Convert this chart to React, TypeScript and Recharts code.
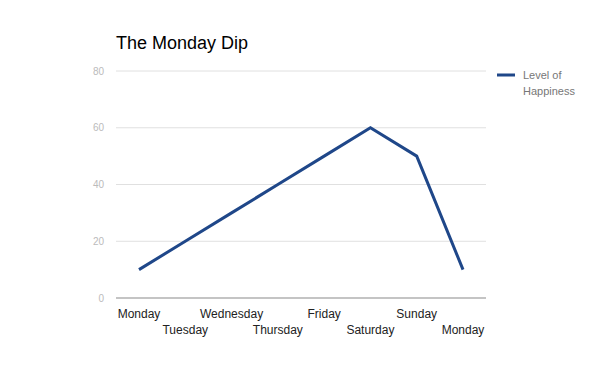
import React from "react";
import { LineChart, Line, XAxis, YAxis, CartesianGrid } from "recharts";

const days = ["Monday", "Tuesday", "Wednesday", "Thursday", "Friday", "Saturday", "Sunday", "Monday"];
const happiness = [10, 20, 30, 40, 50, 60, 50, 10];
const yTicks = [0, 20, 40, 60, 80];
const seriesName = "Level of Happiness";

const data = days.map((d, i) => ({ idx: i, day: d, value: happiness[i] }));

const FONT = "'Liberation Sans', Arial, sans-serif";
const LINE_COLOR = "#1f4789";

const XTick = (props: any) => {
  const { x, y, payload, index } = props;
  const odd = index % 2 === 1;
  return (
    <text x={x} y={y + (odd ? 28 : 12)} textAnchor="middle" fontSize={12} fill="#222" fontFamily={FONT}>
      {days[payload.value]}
    </text>
  );
};

export default function App() {
  return (
    <div style={{ position: "absolute", left: 0, top: 0, width: 600, height: 371, background: "#fff" }}>
      <div
        style={{
          position: "absolute",
          left: 116,
          top: 33,
          fontFamily: FONT,
          fontSize: 18,
          color: "#000",
        }}
      >
        The Monday Dip
      </div>
      <div
        style={{
          position: "absolute",
          left: 497,
          top: 68,
          fontFamily: FONT,
          fontSize: 11,
          color: "#777",
          display: "flex",
          alignItems: "flex-start",
        }}
      >
        <svg width={26} height={14} style={{ flex: "none" }}>
          <line x1={0} y1={7} x2={18} y2={7} stroke={LINE_COLOR} strokeWidth={3} />
        </svg>
        <div style={{ lineHeight: "16px", marginTop: -1 }}>
          Level of
          <br />
          Happiness
        </div>
      </div>
      <LineChart
        width={600}
        height={371}
        data={data}
        margin={{ top: 71, right: 114, bottom: 0, left: 0 }}
      >
        <CartesianGrid horizontal vertical={false} stroke="#e0e0e0" />
        <XAxis
          dataKey="idx"
          type="category"
          tick={<XTick />}
          tickLine={false}
          axisLine={{ stroke: "#999" }}
          interval={0}
          height={73}
          padding={{ left: 23, right: 23 }}
        />
        <YAxis
          domain={[0, 80]}
          ticks={yTicks}
          width={116}
          tickSize={0}
          tickMargin={12}
          axisLine={false}
          tickLine={false}
          tick={{ fontSize: 10, fill: "#bbb", fontFamily: FONT }}
        />
        <Line
          type="linear"
          dataKey="value"
          name={seriesName}
          stroke={LINE_COLOR}
          strokeWidth={3}
          dot={false}
          isAnimationActive={false}
        />
      </LineChart>
    </div>
  );
}
